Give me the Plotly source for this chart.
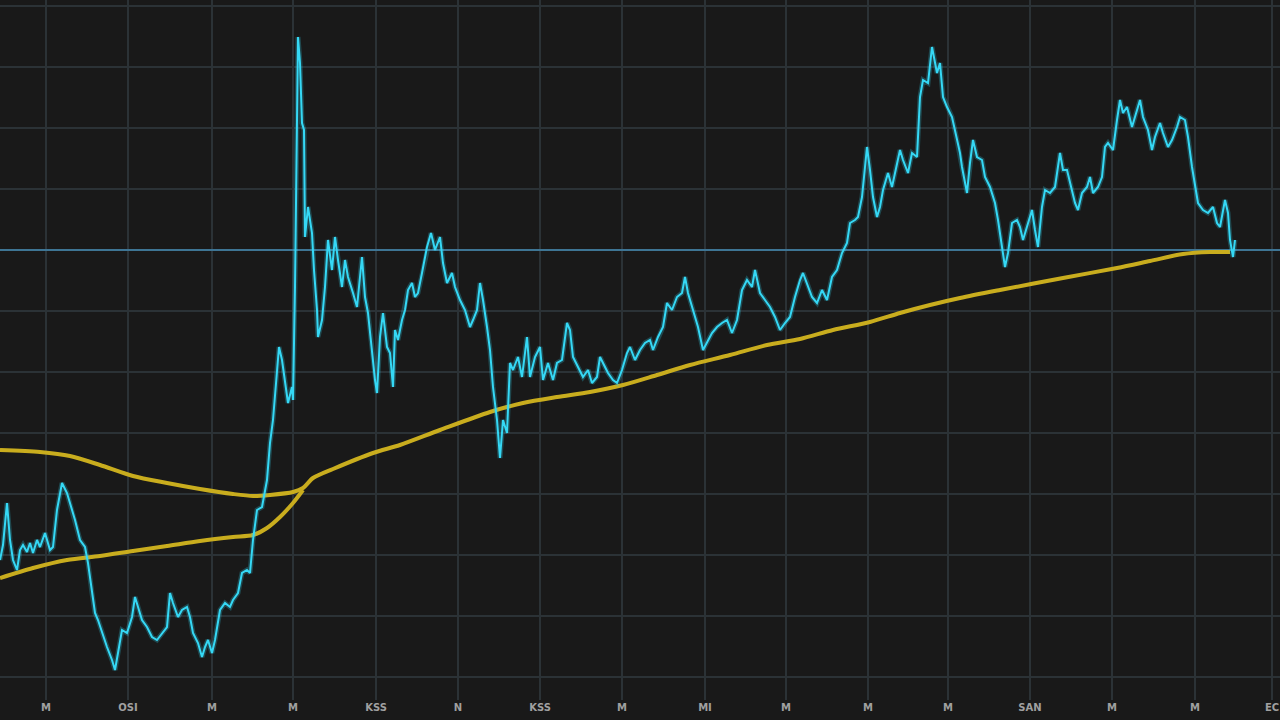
import plotly.graph_objects as go

# ---- data (t = bar index, values = price) ----
t_price = [0,3,7,10,13,17,20,23,27,30,33,37,40,45,50,53,57,62,67,70,75,80,85,88,92,95,98,102,107,112,115,118,122,127,132,135,138,142,147,152,157,162,167,170,173,178,182,187,190,193,198,202,205,208,212,215,220,225,230,233,238,242,247,250,253,257,262,267,270,273,277,279,282,285,288,292,293,295,297,298,300,302,304,305,308,312,314,317,318,322,325,328,332,335,338,342,345,348,353,357,362,365,368,372,375,377,380,383,387,390,393,395,398,402,405,408,412,415,418,422,427,431,435,440,443,447,452,455,460,465,470,473,477,480,483,487,490,493,497,500,503,507,510,513,518,522,527,530,535,540,543,548,553,557,562,567,570,573,578,583,588,592,597,600,603,608,613,617,622,627,630,635,640,645,650,653,658,663,667,672,677,682,685,688,693,698,703,707,712,717,722,727,732,737,742,747,752,755,760,765,770,775,780,785,790,795,800,803,807,812,817,822,827,832,837,842,847,850,855,858,862,865,867,870,873,877,880,883,888,892,897,900,903,908,912,917,920,923,928,932,937,940,943,947,952,957,960,962,967,970,973,977,982,985,990,995,998,1002,1005,1008,1012,1017,1020,1023,1027,1032,1035,1038,1042,1045,1050,1055,1060,1063,1067,1070,1075,1078,1082,1087,1090,1093,1098,1102,1105,1108,1113,1117,1120,1123,1127,1132,1135,1140,1143,1148,1152,1155,1160,1163,1168,1172,1177,1180,1185,1188,1192,1195,1198,1203,1208,1213,1217,1220,1225,1228,1230,1233,1235]
price = [14.0,15.5,19.7,16.0,14.0,13.0,15.0,15.5,14.8,15.7,14.7,16.0,15.3,16.7,15.0,15.3,19.0,21.7,20.7,19.7,18.0,16.0,15.3,13.7,10.7,8.7,8.0,6.7,5.3,4.0,3.0,4.7,7.0,6.7,8.3,10.3,9.3,8.0,7.3,6.3,6.0,6.7,7.3,10.7,9.7,8.3,9.0,9.3,8.3,6.7,5.7,4.3,5.3,6.0,4.7,6.0,9.0,9.7,9.3,10.0,10.7,12.7,13.0,12.7,16.0,19.0,19.3,22.0,25.7,28.0,33.0,35.3,34.0,32.0,29.7,31.3,30.0,41.3,58.0,66.3,63.7,57.7,57.0,46.3,49.3,46.7,43.0,39.0,36.3,38.0,41.3,46.0,43.0,46.3,44.0,41.3,44.0,42.3,40.7,39.3,44.3,40.3,38.7,34.7,32.0,30.7,36.3,38.7,35.3,34.7,31.3,37.0,36.0,38.0,39.0,41.0,41.7,40.3,40.7,42.7,45.3,46.7,45.0,46.3,43.7,41.7,42.7,41.3,40.0,39.0,37.3,38.0,39.0,41.7,40.0,37.3,35.0,31.3,28.0,24.2,28.0,26.7,33.7,33.0,34.3,32.3,36.3,32.3,34.3,35.3,32.0,33.7,32.0,33.7,34.0,37.7,37.0,34.3,33.3,32.3,33.0,31.7,32.3,34.3,33.7,32.7,32.0,31.7,33.0,34.7,35.3,34.0,35.0,35.7,36.0,35.0,36.3,37.3,39.7,39.0,40.3,40.7,42.3,40.7,39.0,37.3,35.0,35.7,36.7,37.3,37.7,38.0,36.7,38.0,41.0,42.0,41.3,43.0,40.7,40.0,39.3,38.3,37.0,37.7,38.3,40.3,42.0,42.7,41.7,40.3,39.7,41.0,40.0,42.3,43.0,44.7,45.7,47.7,48.0,48.3,50.3,53.0,55.3,53.0,50.3,48.3,49.3,51.0,52.7,51.3,53.7,55.0,54.0,52.7,54.7,54.3,60.3,62.0,61.7,65.3,62.7,63.7,60.3,59.3,58.3,56.0,54.7,53.3,50.7,53.7,56.0,54.3,54.0,52.3,51.3,49.7,48.0,45.3,43.3,44.7,47.7,48.0,47.3,46.0,47.3,49.0,47.0,45.3,49.3,51.0,50.7,51.3,54.7,53.0,53.0,51.7,49.7,49.0,50.7,51.3,52.3,50.7,51.3,52.3,55.3,55.7,55.0,58.0,60.0,58.7,59.3,57.3,58.3,60.0,58.3,57.0,55.0,56.3,57.7,56.7,55.3,56.0,57.3,58.3,58.0,56.3,53.3,51.3,49.7,49.0,48.7,49.3,47.7,47.3,50.0,48.7,46.0,44.3,46.0]

# long moving average (starts high, merges with the rising one)
t_ma_long = [0,40,70,100,133,167,200,233,253,270,293,303,313,333,373,400,440,490,523,557,590,623,657,690,730,767,800,833,870,900,930,960,1000,1063,1117,1150,1183,1210,1230]
ma_long = [25.0,24.8,24.4,23.5,22.4,21.7,21.1,20.6,20.4,20.5,20.8,21.2,22.2,23.1,24.7,25.5,27.0,28.8,29.7,30.3,30.8,31.5,32.5,33.5,34.5,35.5,36.1,37.0,37.8,38.7,39.5,40.2,41.0,42.2,43.2,43.9,44.6,44.8,44.8]

# shorter moving average (rising from below, joining at the crossover)
t_ma_short = [0,33,67,100,133,167,200,233,253,267,280,293,303]
ma_short = [12.2,13.2,14.0,14.4,14.9,15.4,15.9,16.3,16.5,17.2,18.3,19.7,21.0]

ref_level = 45.0

tick_pos = [46,128,212,293,376,458,540,622,705,786,868,948,1030,1112,1195,1272]
tick_labels = ["M","OSI","M","M","KSS","N","KSS","M","MI","M","M","M","SAN","M","M","EC"]

CYAN = "#35d8f5"
GOLD = "#c9ad1e"
BG = "#191919"
GRID = "#2b3236"

fig = go.Figure()

# reference level line
fig.add_trace(go.Scatter(x=[0, 1280], y=[ref_level, ref_level], mode="lines",
                         line=dict(color="rgba(70,140,180,0.75)", width=2),
                         hoverinfo="skip", showlegend=False))

fig.add_trace(go.Scatter(x=t_ma_long, y=ma_long, mode="lines",
                         line=dict(color=GOLD, width=4, shape="spline", smoothing=0.8),
                         showlegend=False))
fig.add_trace(go.Scatter(x=t_ma_short, y=ma_short, mode="lines",
                         line=dict(color=GOLD, width=4, shape="spline", smoothing=0.8),
                         showlegend=False))

# glow under price
fig.add_trace(go.Scatter(x=t_price, y=price, mode="lines",
                         line=dict(color="rgba(53,216,245,0.25)", width=5),
                         hoverinfo="skip", showlegend=False))
fig.add_trace(go.Scatter(x=t_price, y=price, mode="lines",
                         line=dict(color=CYAN, width=2),
                         showlegend=False))

fig.update_layout(
    width=1280, height=720,
    margin=dict(l=0, r=0, t=0, b=20),
    paper_bgcolor=BG, plot_bgcolor=BG,
    showlegend=False,
    xaxis=dict(range=[0, 1280], tickmode="array", tickvals=tick_pos, ticktext=tick_labels,
               showgrid=True, gridcolor=GRID, gridwidth=1.5, zeroline=False,
               showline=False, ticks="",
               tickfont=dict(family="DejaVu Sans", size=10, color="#a0a0a0", weight="bold")),
    yaxis=dict(range=[0, 70], tick0=2.3, dtick=6.1, showgrid=True, gridcolor=GRID,
               gridwidth=1.5, zeroline=False, showticklabels=False, showline=False),
)

fig.write_html(
    "out.html",
    config={"displayModeBar": False},
    post_script="document.body.style.margin='0';document.body.style.background='#191919';"
                "document.body.style.overflow='hidden';",
)
